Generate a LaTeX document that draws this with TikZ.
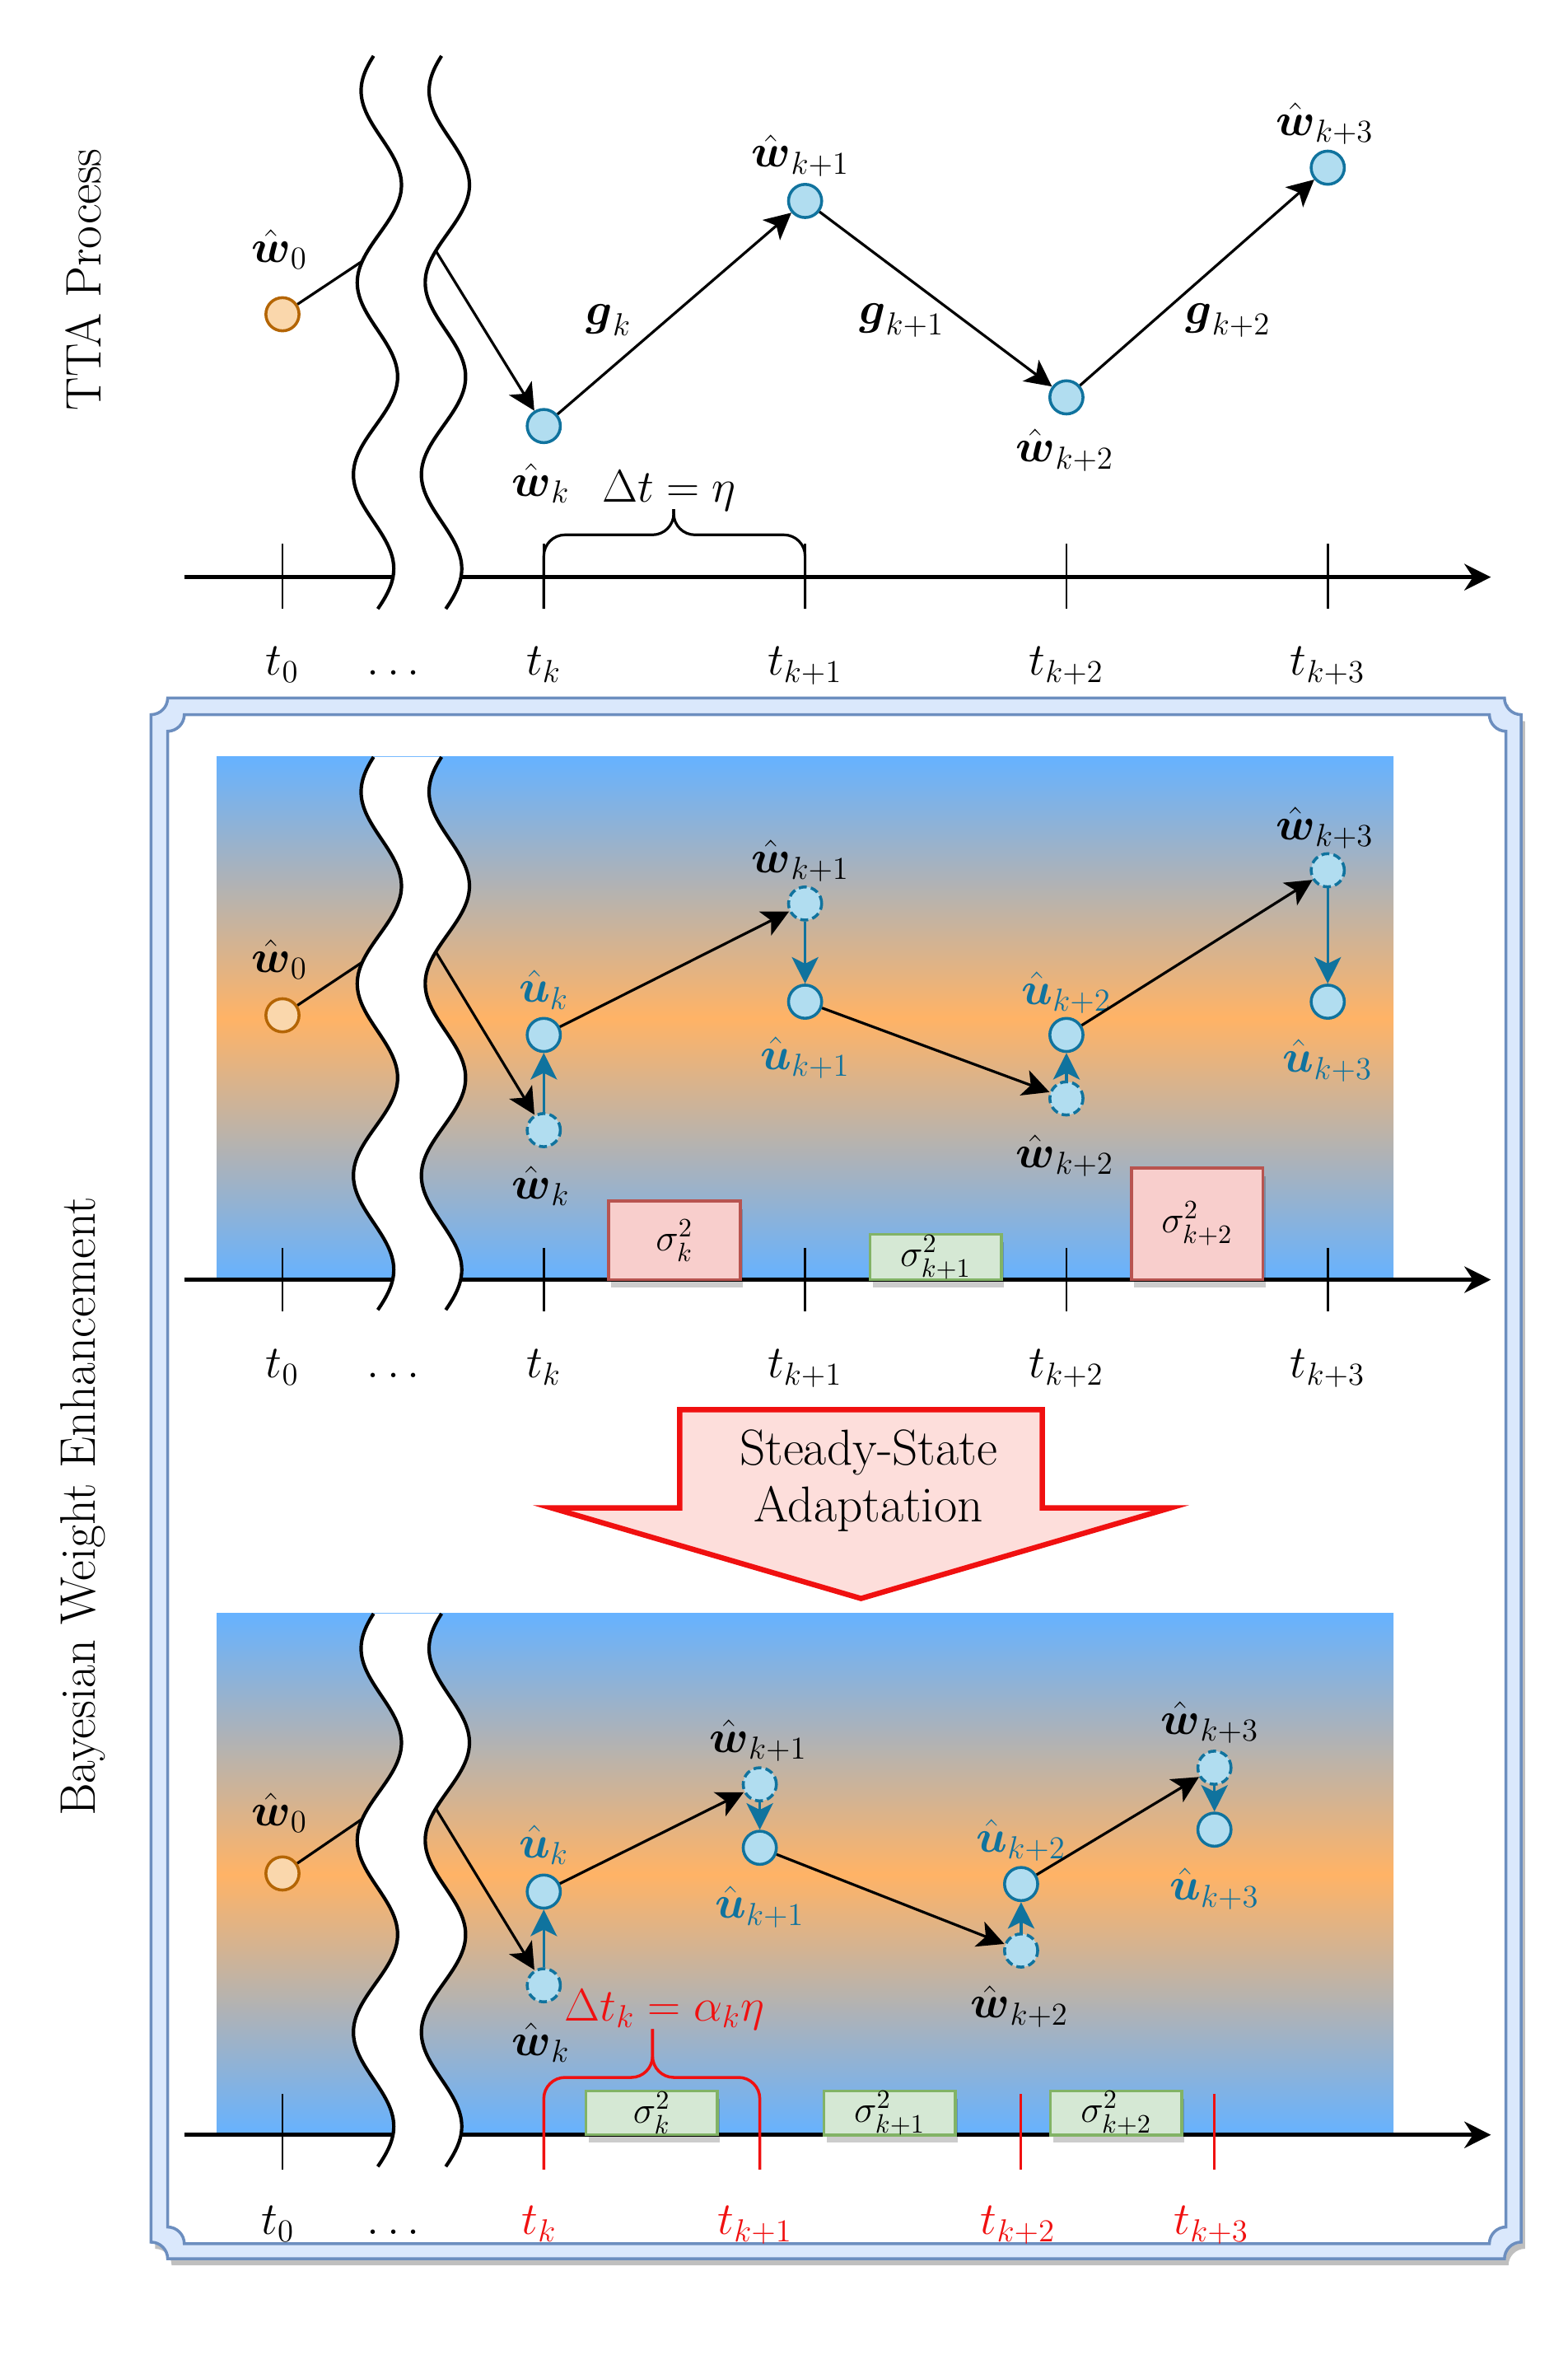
\documentclass[tikz,border=0pt]{standalone}
\usepackage{amsmath}
\usepackage{amssymb}
\usetikzlibrary{arrows.meta,shadows}

\definecolor{nodeblue}{HTML}{B1DDF0}
\definecolor{nodeline}{HTML}{10739E}
\definecolor{nodeorange}{HTML}{FAD7AC}
\definecolor{orangeline}{HTML}{B46504}
\definecolor{skyblue}{HTML}{66B2FF}
\definecolor{softorange}{HTML}{FFB366}
\definecolor{framefill}{HTML}{DAE8FC}
\definecolor{frameline}{HTML}{6C8EBF}
\definecolor{redfill}{HTML}{F8CECC}
\definecolor{redline}{HTML}{B85450}
\definecolor{greenfill}{HTML}{D5E8D4}
\definecolor{greenline}{HTML}{82B366}
\definecolor{adaptfill}{HTML}{FDDEDB}
\definecolor{alarm}{HTML}{F01010}

\newcommand{\wh}[1]{\hat{\boldsymbol{w}}_{#1}}
\newcommand{\uh}[1]{\hat{\boldsymbol{u}}_{#1}}
\newcommand{\gb}[1]{\boldsymbol{g}_{#1}}

\tikzset{
  wnode/.style={circle, draw=nodeline, fill=nodeblue, line width=1.1pt,
    minimum size=12.5pt, inner sep=0pt},
  wguess/.style={wnode, dash pattern=on 3pt off 1.6pt},
  wstart/.style={wnode, draw=orangeline, fill=nodeorange},
  lbl/.style={font=\LARGE, inner sep=0pt},
  ulbl/.style={lbl, text=nodeline},
  title/.style={font=\fontsize{18.8}{22}\selectfont, inner sep=0pt, rotate=90},
  axis/.style={line width=1.4pt, -{Stealth[length=10pt,width=10pt]}},
  tick/.style={line width=0.8pt},
  redtick/.style={line width=0.9pt, alarm},
  gradarrow/.style={line width=1pt, -{Stealth[length=10pt,width=10pt,inset=2.5pt]}},
  fixarrow/.style={gradarrow, draw=nodeline},
  sigbox/.style={draw, line width=1.1pt, font=\Large, inner sep=0pt,
    minimum width=49.5pt,
    drop shadow={shadow xshift=1pt, shadow yshift=-3pt, opacity=0.2, fill=black}},
  wavy/.style={line width=1.3pt},
  band/.style={top color=skyblue, bottom color=skyblue, middle color=softorange},
}

\begin{document}
\begin{tikzpicture}[x=0.02cm, y=-0.02cm]
  \useasboundingbox (0,0) rectangle (1038,1568);
  \fill[white] (0,0) rectangle (1038,1568);

  % Titles
  \node[title] (tta) at (55,185) {TTA Process};
  \node[title] (bwe) at (55,997) {Bayesian Weight Enhancement};

  % Frame
  \fill[framefill, draw=frameline, line width=1.1pt,
    drop shadow={shadow xshift=1.5pt, shadow yshift=-2.5pt, opacity=0.25, fill=black}]
    (111,462) -- (996,462) .. controls (996,468) and (1001,473) .. (1007,473)
    -- (1007,1484) .. controls (1001,1484) and (996,1489) .. (996,1495)
    -- (111,1495) .. controls (111,1489) and (106,1484) .. (100,1484)
    -- (100,473) .. controls (106,473) and (111,468) .. (111,462) -- cycle;
  \fill[white, draw=frameline, line width=1.1pt]
    (122,473) -- (986,473) .. controls (986,479) and (991,484) .. (997,484)
    -- (997,1474) .. controls (991,1474) and (986,1479) .. (986,1485)
    -- (122,1485) .. controls (122,1479) and (117,1474) .. (111,1474)
    -- (111,484) .. controls (117,484) and (122,479) .. (122,473) -- cycle;

  % Backgrounds
  \shade[band] (143.5,501) rectangle (922.5,847);
  \shade[band] (143.5,1068) rectangle (922.5,1413);

  % Axes
  \foreach \y in {382,847,1413}
    \draw[axis] (122,\y) -- (987,\y);

  \foreach \x/\tname in {187/t_0, 360/t_k, 533/t_{k+1}, 706/t_{k+2}, 879/t_{k+3}} {
    \draw[tick] (\x,360) -- (\x,403);
    \draw[tick] (\x,826) -- (\x,868);
    \node[lbl, anchor=base] (top-\x) at (\x,447) {$\tname$};
    \node[lbl, anchor=base] (mid-\x) at (\x,912) {$\tname$};
  };
  \node[lbl, anchor=base] (top-dots) at (263,447) {$\dots$};
  \node[lbl, anchor=base] (mid-dots) at (263,912) {$\dots$};

  \draw[tick] (187,1386) -- (187,1436);
  \node[lbl, anchor=base] (bot-187) at (184,1479) {$t_0$};
  \node[lbl, anchor=base] (bot-dots) at (263,1479) {$\dots$};
  \draw[redtick] (676,1386) -- (676,1436);
  \draw[redtick] (804,1386) -- (804,1436);
  \foreach \x/\tname in {357/t_k, 500/t_{k+1}, 674/t_{k+2}, 802/t_{k+3}}
    \node[lbl, anchor=base, text=alarm] (bot-\x) at (\x,1479) {$\tname$};

  % Variances
  \node[sigbox, draw=redline, fill=redfill, minimum height=29.6pt] (msk) at (446.5,821) {$\sigma_k^2$};
  \node[sigbox, draw=greenline, fill=greenfill, minimum height=17pt] (msk1) at (619.5,832) {$\sigma_{k+1}^2$};
  \node[sigbox, draw=redline, fill=redfill, minimum height=42pt] (msk2) at (792.5,810) {$\sigma_{k+2}^2$};
  \node[sigbox, draw=greenline, fill=greenfill, minimum height=16.5pt] (bsk) at (431.5,1398.5) {$\sigma_k^2$};
  \node[sigbox, draw=greenline, fill=greenfill, minimum height=16.5pt] (bsk1) at (589,1398.5) {$\sigma_{k+1}^2$};
  \node[sigbox, draw=greenline, fill=greenfill, minimum height=16.5pt] (bsk2) at (739,1398.5) {$\sigma_{k+2}^2$};

  % Breaks
  \foreach \dy in {0,464,1031} {
    \fill[white] plot[domain=37:403, samples=90, smooth, variable=\s]
        ({253.5-14*cos(2.8346*(\s-59.5))-0.02*(\s-37)}, {\s+\dy})
      -- plot[domain=403:37, samples=90, smooth, variable=\s]
        ({298.5-14*cos(2.8346*(\s-59.5))-0.02*(\s-37)}, {\s+\dy}) -- cycle;
    \draw[wavy] plot[domain=37:403, samples=90, smooth, variable=\s]
        ({253.5-14*cos(2.8346*(\s-59.5))-0.02*(\s-37)}, {\s+\dy});
    \draw[wavy] plot[domain=37:403, samples=90, smooth, variable=\s]
        ({298.5-14*cos(2.8346*(\s-59.5))-0.02*(\s-37)}, {\s+\dy});
  };
  \coordinate (tcut0) at (240.4,172.5);
  \coordinate (tcut1) at (288.5,166);
  \coordinate (mcut0) at (240.4,636.5);
  \coordinate (mcut1) at (288.5,630);
  \coordinate (bcut0) at (240.4,1203.5);
  \coordinate (bcut1) at (288.5,1197);

  % Step sizes
  \draw[line width=1pt, rounded corners=8pt] (360,403) -- (360,354) -- (446,354) -- (446,337);
  \draw[line width=1pt, rounded corners=8pt] (533,403) -- (533,354) -- (446,354) -- (446,337);
  \node[lbl] (tdelta) at (443,325) {$\Delta t=\eta$};
  \draw[line width=1.1pt, alarm, rounded corners=8pt] (360,1436) -- (360,1375) -- (432,1375) -- (432,1343);
  \draw[line width=1.1pt, alarm, rounded corners=8pt] (503,1436) -- (503,1375) -- (432,1375) -- (432,1343);
  \node[lbl, text=alarm] (bdelta) at (440,1330) {$\Delta t_k=\alpha_k\eta$};

  % TTA process
  \node[wstart] (tw0) at (187,208) {};
  \node[wnode] (twk) at (360,282) {};
  \node[wnode] (twk1) at (533,133) {};
  \node[wnode] (twk2) at (706,263) {};
  \node[wnode] (twk3) at (879,111) {};
  \node[lbl] (tw0-l) at (185,165) {$\wh{0}$};
  \node[lbl] (twk-l) at (358,320) {$\wh{k}$};
  \node[lbl] (twk1-l) at (530,103) {$\wh{k+1}$};
  \node[lbl] (twk2-l) at (705,298) {$\wh{k+2}$};
  \node[lbl] (twk3-l) at (877,82) {$\wh{k+3}$};
  \node[lbl] (tg0) at (403,212) {$\gb{k}$};
  \node[lbl] (tg1) at (597,212) {$\gb{k+1}$};
  \node[lbl] (tg2) at (813,212) {$\gb{k+2}$};
  \draw[line width=1pt] (tw0) -- (tcut0);
  \draw[gradarrow] (tcut1) -- (twk);
  \draw[gradarrow] (twk) -- (twk1);
  \draw[gradarrow] (twk1) -- (twk2);
  \draw[gradarrow] (twk2) -- (twk3);

  % Enhanced process
  \node[wstart] (mw0) at (187,672) {};
  \node[wguess] (mwk) at (360,748) {};
  \node[wnode] (muk) at (360,685) {};
  \node[wguess] (mwk1) at (533,598) {};
  \node[wnode] (muk1) at (533,663) {};
  \node[wguess] (mwk2) at (706,727) {};
  \node[wnode] (muk2) at (706,685) {};
  \node[wguess] (mwk3) at (879,576) {};
  \node[wnode] (muk3) at (879,663) {};
  \node[lbl] (mw0-l) at (185,635) {$\wh{0}$};
  \node[lbl] (mwk-l) at (358,785) {$\wh{k}$};
  \node[ulbl] (muk-l) at (360,655) {$\uh{k}$};
  \node[lbl] (mwk1-l) at (530,570) {$\wh{k+1}$};
  \node[ulbl] (muk1-l) at (533,700) {$\uh{k+1}$};
  \node[lbl] (mwk2-l) at (705,765) {$\wh{k+2}$};
  \node[ulbl] (muk2-l) at (706,657) {$\uh{k+2}$};
  \node[lbl] (mwk3-l) at (877,548) {$\wh{k+3}$};
  \node[ulbl] (muk3-l) at (879,702) {$\uh{k+3}$};
  \draw[line width=1pt] (mw0) -- (mcut0);
  \draw[gradarrow] (mcut1) -- (mwk);
  \draw[fixarrow] (mwk) -- (muk);
  \draw[gradarrow] (muk) -- (mwk1);
  \draw[fixarrow] (mwk1) -- (muk1);
  \draw[gradarrow] (muk1) -- (mwk2);
  \draw[fixarrow] (mwk2) -- (muk2);
  \draw[gradarrow] (muk2) -- (mwk3);
  \draw[fixarrow] (mwk3) -- (muk3);

  % Steady-state
  \draw[line width=2pt, alarm, fill=adaptfill, line join=miter]
    (450,933) -- (690,933) -- (690,998) -- (775,998) -- (570,1058)
    -- (365,998) -- (450,998) -- cycle;
  \node[lbl, font=\fontsize{19}{21.5}\selectfont, align=center] (adapt) at (575,980) {Steady-State\\Adaptation};

  \node[wstart] (bw0) at (187,1240) {};
  \node[wguess] (bwk) at (360,1314) {};
  \node[wnode] (buk) at (360,1252) {};
  \node[wguess] (bwk1) at (503,1181) {};
  \node[wnode] (buk1) at (503,1223) {};
  \node[wguess] (bwk2) at (676,1291) {};
  \node[wnode] (buk2) at (676,1247) {};
  \node[wguess] (bwk3) at (804,1170) {};
  \node[wnode] (buk3) at (804,1211) {};
  \node[lbl] (bw0-l) at (185,1200) {$\wh{0}$};
  \node[lbl] (bwk-l) at (358,1352) {$\wh{k}$};
  \node[ulbl] (buk-l) at (360,1221) {$\uh{k}$};
  \node[lbl] (bwk1-l) at (502,1152) {$\wh{k+1}$};
  \node[ulbl] (buk1-l) at (503,1262) {$\uh{k+1}$};
  \node[lbl] (bwk2-l) at (675,1328) {$\wh{k+2}$};
  \node[ulbl] (buk2-l) at (676,1218) {$\uh{k+2}$};
  \node[lbl] (bwk3-l) at (801,1140) {$\wh{k+3}$};
  \node[ulbl] (buk3-l) at (804,1250) {$\uh{k+3}$};
  \draw[line width=1pt] (bw0) -- (bcut0);
  \draw[gradarrow] (bcut1) -- (bwk);
  \draw[fixarrow] (bwk) -- (buk);
  \draw[gradarrow] (buk) -- (bwk1);
  \draw[fixarrow] (bwk1) -- (buk1);
  \draw[gradarrow] (buk1) -- (bwk2);
  \draw[fixarrow] (bwk2) -- (buk2);
  \draw[gradarrow] (buk2) -- (bwk3);
  \draw[fixarrow] (bwk3) -- (buk3);
\end{tikzpicture}
\end{document}
